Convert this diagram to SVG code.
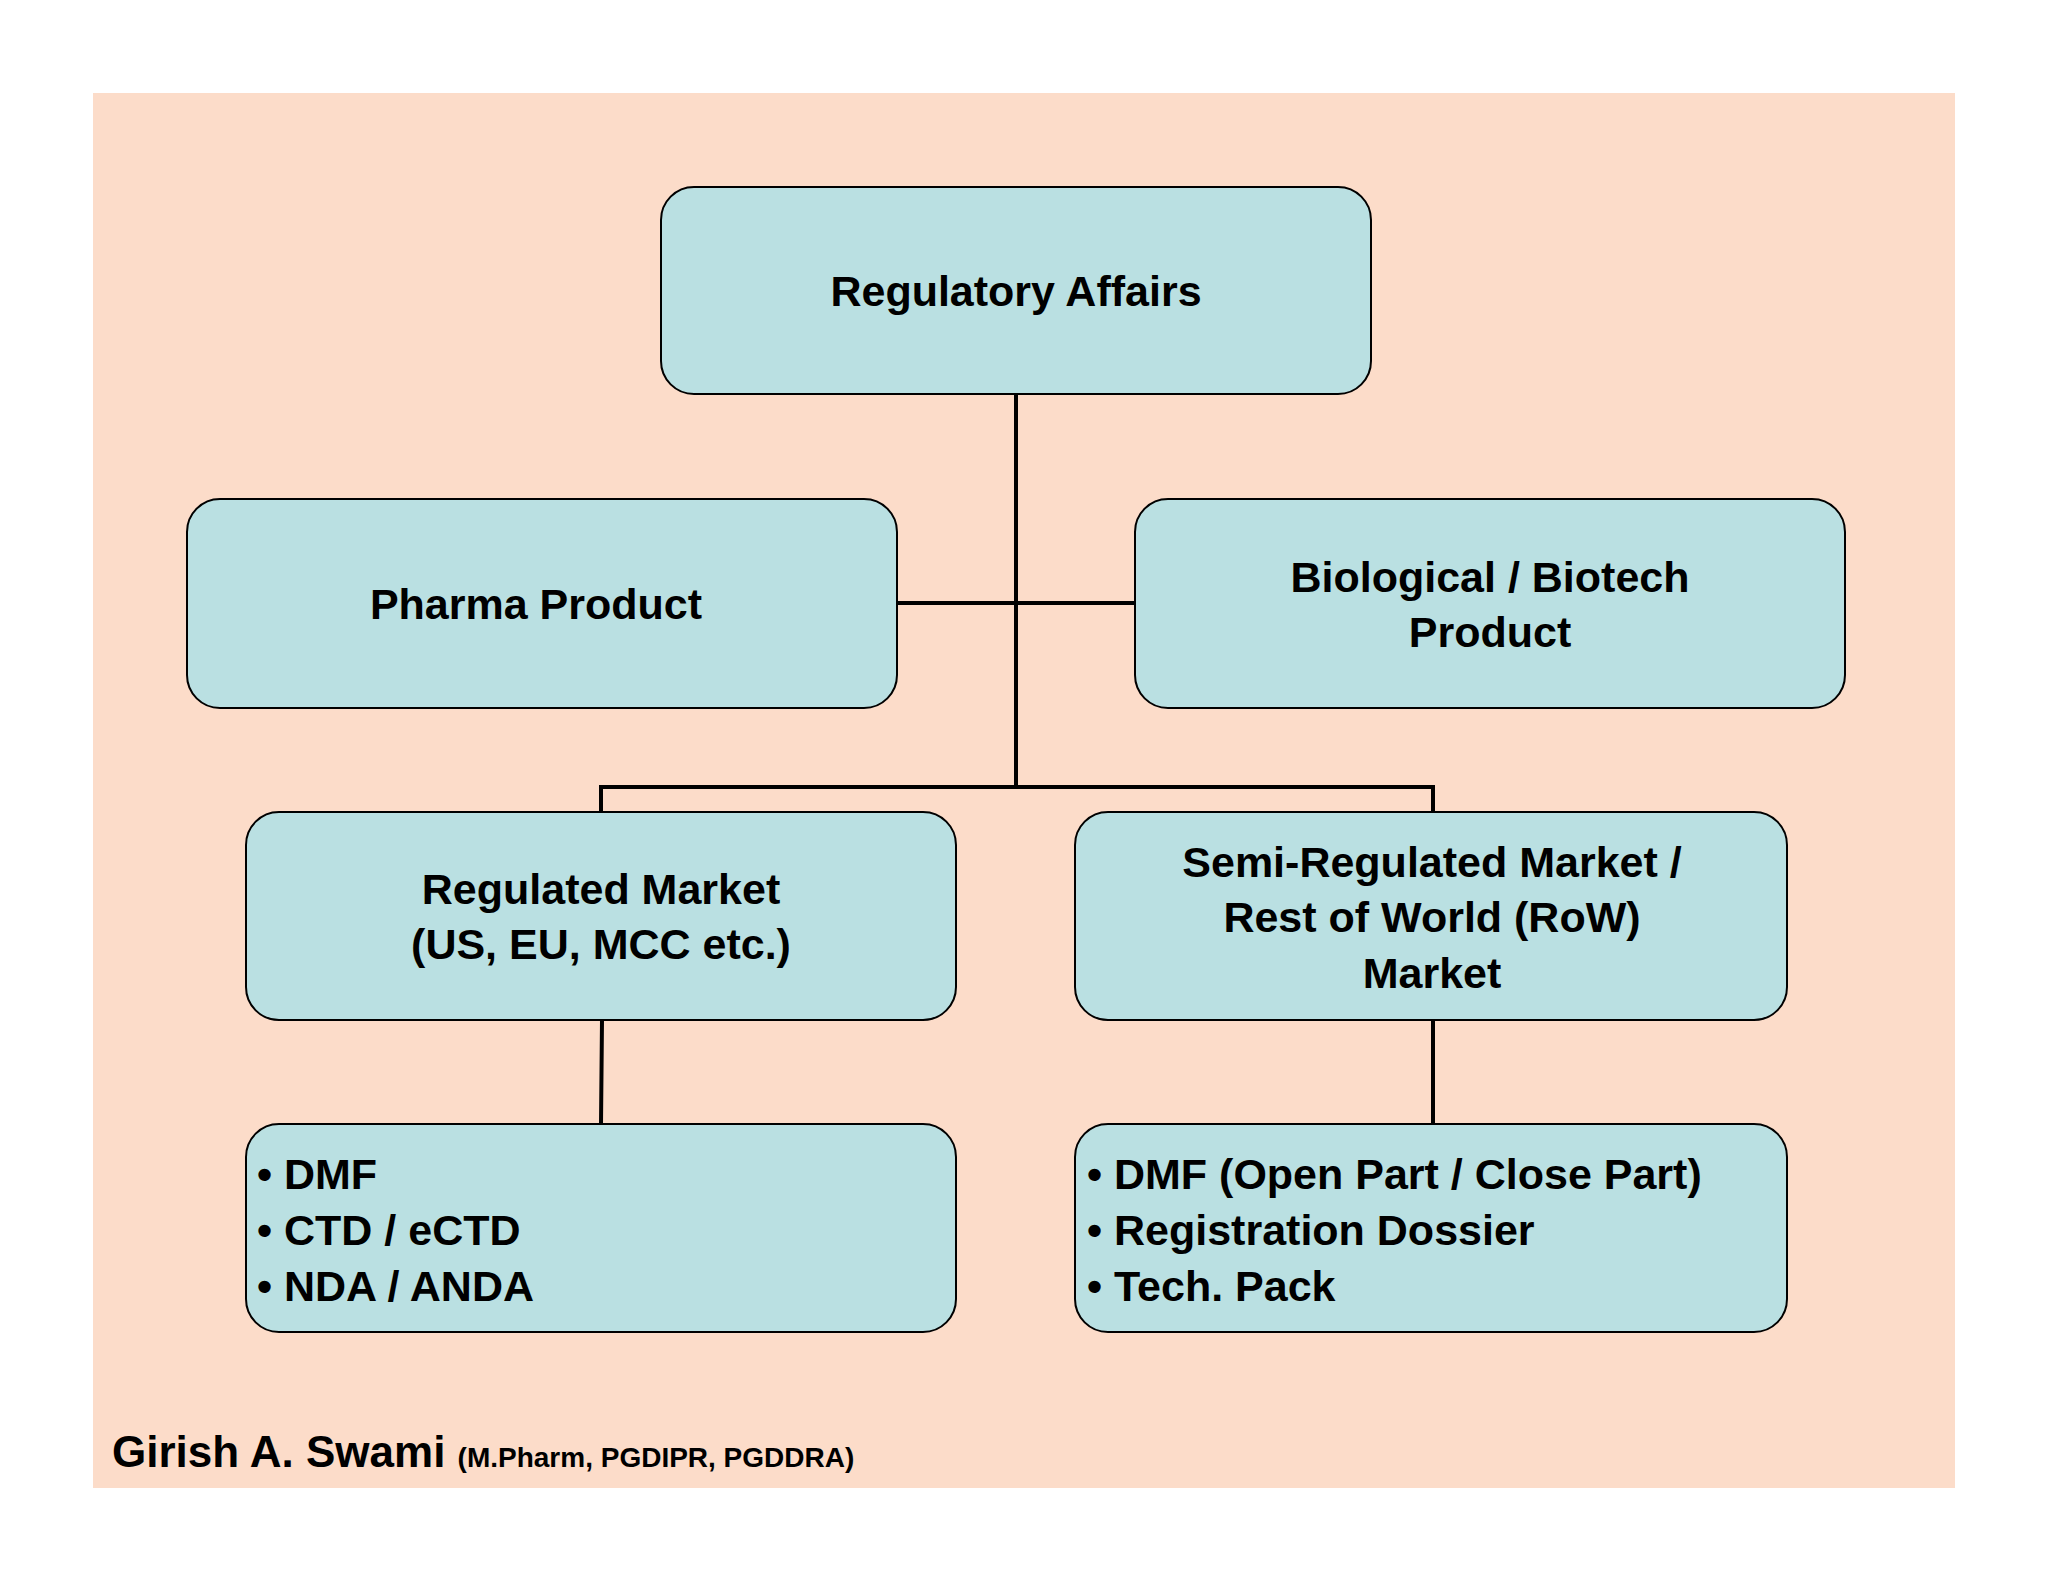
<svg xmlns="http://www.w3.org/2000/svg" width="2048" height="1582" viewBox="0 0 2048 1582">
<style>
.b{fill:#bae0e2;stroke:#000;stroke-width:2}
.t{font-family:"Liberation Sans",Arial,sans-serif;font-weight:bold;font-size:43px;fill:#000}
.c{text-anchor:middle}
.l{stroke:#000;stroke-width:4;fill:none}
</style>
<rect width="2048" height="1582" fill="#fff"/>
<rect x="93" y="93" width="1862" height="1395" fill="#fcdcc9"/>
<g id="connectors">
<path class="l" d="M1016 394V787M897 603H1135M601 812V787H1433V812M602 1020L601 1124M1433 1020V1124"/>
</g>
<g id="ra"><rect class="b" x="661" y="187" width="710" height="207" rx="33"/><text class="t c" x="1016" y="306">Regulatory Affairs</text></g>
<g id="pharma"><rect class="b" x="187" y="499" width="710" height="209" rx="33"/><text class="t c" x="536" y="619">Pharma Product</text></g>
<g id="bio"><rect class="b" x="1135" y="499" width="710" height="209" rx="33"/><text class="t c" x="1490" y="592">Biological / Biotech</text><text class="t c" x="1490" y="647">Product</text></g>
<g id="reg"><rect class="b" x="246" y="812" width="710" height="208" rx="33"/><text class="t c" x="601" y="904">Regulated Market</text><text class="t c" x="601" y="959">(US, EU, MCC etc.)</text></g>
<g id="semi"><rect class="b" x="1075" y="812" width="712" height="208" rx="33"/><text class="t c" x="1432" y="877">Semi-Regulated Market /</text><text class="t c" x="1432" y="932">Rest of World (RoW)</text><text class="t c" x="1432" y="988">Market</text></g>
<g id="regdocs"><rect class="b" x="246" y="1124" width="710" height="208" rx="33"/><text class="t" x="257" y="1189">• DMF</text><text class="t" x="257" y="1245">• CTD / eCTD</text><text class="t" x="257" y="1301">• NDA / ANDA</text></g>
<g id="semidocs"><rect class="b" x="1075" y="1124" width="712" height="208" rx="33"/><text class="t" x="1087" y="1189">• DMF (Open Part / Close Part)</text><text class="t" x="1087" y="1245">• Registration Dossier</text><text class="t" x="1087" y="1301">• Tech. Pack</text></g>
<text x="112" y="1467" font-family="Liberation Sans,Arial,sans-serif" font-weight="bold" font-size="44">Girish A. Swami <tspan font-size="28">(M.Pharm, PGDIPR, PGDDRA)</tspan></text>
</svg>
